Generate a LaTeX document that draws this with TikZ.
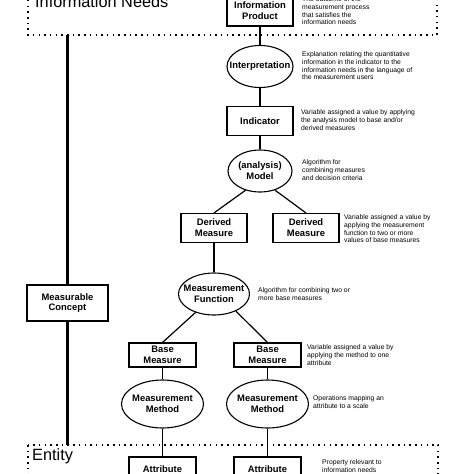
\documentclass[tikz,border=0pt]{standalone}
\usepackage{fontspec}
\setmainfont{Liberation Sans}
\usetikzlibrary{shapes.geometric}
\begin{document}
\begin{tikzpicture}[x=1pt,y=-1pt,
  boxnode/.style={draw, rectangle, line width=1.1pt, inner sep=0pt, align=center, font=\fontsize{9.4}{10.8}\selectfont\bfseries},
  ovalnode/.style={draw, ellipse, line width=1.1pt, inner xsep=-12pt, inner ysep=-8pt, align=center, font=\fontsize{9.4}{10.8}\selectfont\bfseries},
  desc/.style={anchor=north west, inner sep=0pt, align=left, font=\fontsize{6.8}{7.7}\selectfont},
  titletext/.style={anchor=base west, inner sep=0pt, font=\fontsize{16.3}{18}\selectfont},
  link/.style={line width=1.8pt},
  diag/.style={line width=1.2pt},
  sidelink/.style={line width=2.2pt},
  dotline/.style={line width=1.5pt, dash pattern=on 1.5pt off 4.2pt},
]
\useasboundingbox (0,0) rectangle (474,474);
\fill[white] (0,0) rectangle (474,474);
\clip (0,0) rectangle (474,474);

% dotted regions
\draw[dotline] (28,-40) rectangle (437,35);
\draw[dotline] (28,445) rectangle (438,520);
\node[titletext] (tNeeds) at (35,7) {Information Needs};
\node[titletext] (tEnt) at (32,460) {Entity};

% main chain
\node[boxnode, minimum width=66pt, minimum height=31pt] (infoprod) at (260,10.5) {Information\\Product};
\node[ovalnode, minimum width=66pt, minimum height=42pt] (interp) at (260,66.5) {Interpretation};
\node[boxnode, minimum width=66pt, minimum height=29pt] (indic) at (260,121) {Indicator};
\node[ovalnode, minimum width=64pt, minimum height=42pt] (model) at (260,171) {(analysis)\\Model};
\node[boxnode, minimum width=66pt, minimum height=29pt] (derL) at (214,228) {Derived\\Measure};
\node[boxnode, minimum width=66pt, minimum height=29pt] (derR) at (306,228) {Derived\\Measure};
\node[ovalnode, minimum width=71pt, minimum height=42pt] (func) at (214,294) {Measurement\\Function};
\node[boxnode, minimum width=67pt, minimum height=24pt] (baseL) at (162.5,355) {Base\\Measure};
\node[boxnode, minimum width=67pt, minimum height=24pt] (baseR) at (267.5,355) {Base\\Measure};
\node[ovalnode, minimum width=82pt, minimum height=48pt] (methL) at (162.5,404) {Measurement\\Method};
\node[ovalnode, minimum width=82pt, minimum height=48pt] (methR) at (267.5,404) {Measurement\\Method};
\node[boxnode, minimum width=67pt, minimum height=24pt] (attrL) at (162.5,469) {Attribute};
\node[boxnode, minimum width=67pt, minimum height=24pt] (attrR) at (267.5,469) {Attribute};
\node[boxnode, minimum width=81pt, minimum height=36pt] (mc) at (67.5,303) {Measurable\\Concept};

\coordinate (needsB) at (67.5,35);
\coordinate (entT) at (67.5,445);

% connectors
\draw[link] (infoprod) -- (interp);
\draw[link] (interp) -- (indic);
\draw[link] (indic) -- (model);
\draw[diag] (model.-127) -- (derL.north);
\draw[diag] (model.-52) -- (derR.north);
\draw[link] (derL) -- (func);
\draw[diag] (func.-135) -- (baseL.north);
\draw[diag] (func.-38) -- (baseR.north);
\draw[link] (baseL) -- (methL);
\draw[link] (baseR) -- (methR);
\draw[link] (methL) -- (attrL);
\draw[link] (methR) -- (attrR);
\draw[sidelink] (needsB) -- (mc);
\draw[sidelink] (mc) -- (entT);

% descriptions
\node[desc] (dInfo) at (302,-3.5) {The outcome of the\\measurement process\\that satisfies the\\information needs};
\node[desc] (dInterp) at (302,51.5) {Explanation relating the quantitative\\information in the indicator to the\\information needs in the language of\\the measurement users};
\node[desc] (dIndic) at (301,109.5) {Variable assigned a value by applying\\the analysis model to base and/or\\derived measures};
\node[desc] (dModel) at (302,159.5) {Algorithm for\\combining measures\\and decision criteria};
\node[desc] (dDer) at (344,214.5) {Variable assigned a value by\\applying the measurement\\function to two or more\\values of base measures};
\node[desc] (dFunc) at (258,287.5) {Algorithm for combining two or\\more base measures};
\node[desc] (dBase) at (307,344.5) {Variable assigned a value by\\applying the method to one\\attribute};
\node[desc] (dMeth) at (313,395.5) {Operations mapping an\\attribute to a scale};
\node[desc] (dAttr) at (322,459.5) {Property relevant to\\information needs};
\end{tikzpicture}
\end{document}
